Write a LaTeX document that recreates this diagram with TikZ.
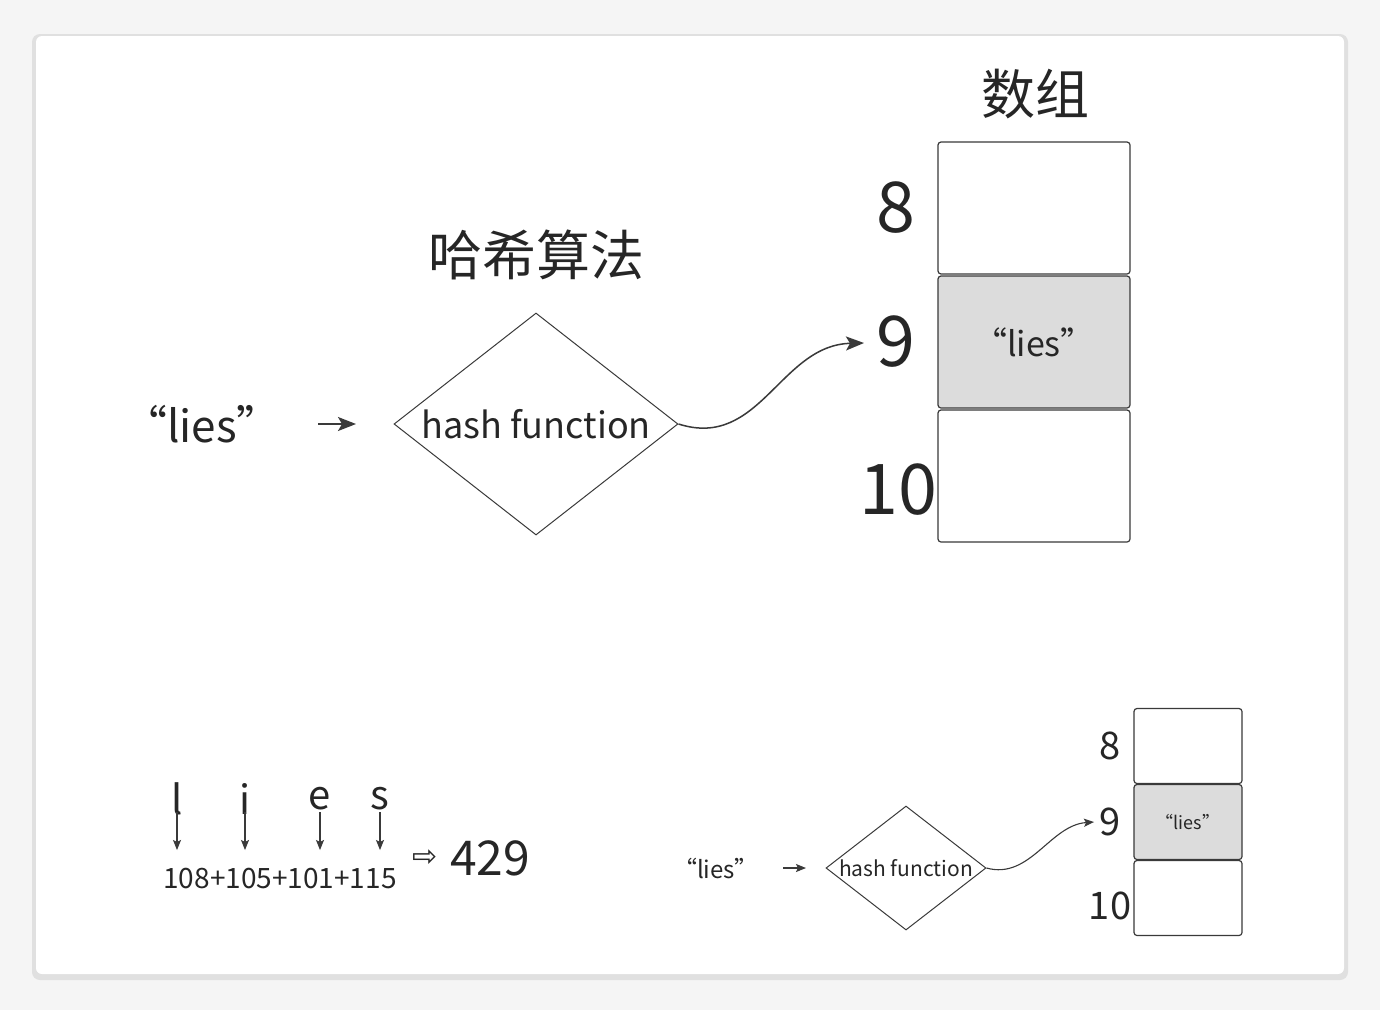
\documentclass[tikz,border=0pt]{standalone}
\usepackage{fontspec}
\setmainfont{Noto Sans CJK SC}
\newfontfamily\sym{DejaVu Sans}
\usetikzlibrary{shapes.geometric,arrows.meta}
\definecolor{boxgray}{HTML}{DCDCDC}
\definecolor{linec}{HTML}{3A3A3A}
\tikzset{
 cell/.style={draw=linec,line width=1.2pt,rounded corners=3pt,minimum width=#1,inner sep=0pt},
 dia/.style={draw=linec,diamond,line width=1pt,inner sep=0pt},
 arr/.style={-{Stealth[length=18pt,width=14pt,inset=4pt]},line width=1.5pt,linec},
 sarr/.style={-{Stealth[length=10pt,width=8pt,inset=2pt]},line width=1.1pt,linec},
 fs/.style={font=\fontsize{#1}{#1}\selectfont,text=black!85}
}
\begin{document}
\begin{tikzpicture}[x=1pt,y=-1pt]
\useasboundingbox (0,0) rectangle (1380,1010);
\fill[black!4] (0,0) rectangle (1380,1010);
\fill[black!12,rounded corners=8pt] (32,34) rectangle (1348,980);
\fill[white,rounded corners=6pt] (36,36) rectangle (1344,974);
% big diagram
\node[fs=44] (lies) at (202,424) {“lies”};
\coordinate (a1) at (318,424); \coordinate (a2) at (356,424);
\draw[arr] (a1) -- (a2);
\node[dia,minimum width=284pt,minimum height=222pt] (hf) at (536,424) {};
\node[fs=36] (hft) at (536,424) {hash function};
\node[fs=54] (t1) at (536,255) {哈希算法};
\node[cell=192pt,minimum height=132pt] (b8) at (1034,208) {};
\node[cell=192pt,minimum height=132pt,fill=boxgray] (b9) at (1034,342) {};
\node[fs=34] (bl) at (1034,342) {“lies”};
\node[cell=192pt,minimum height=132pt] (b10) at (1034,476) {};
\node[fs=70] (n8) at (896,208) {8};
\node[fs=70] (n9) at (896,342) {9};
\node[fs=70] (n10) at (898,490) {10};
\node[fs=54] (t2) at (1035,94) {数组};
\coordinate (c2) at (864,343);
\draw[arr] (hf.east) .. controls (760,450) and (780,345) .. (c2);
% small diagram
\node[fs=24] (lies2) at (716,868) {“lies”};
\coordinate (s1) at (783,868); \coordinate (s2) at (806,868);
\draw[sarr] (s1) -- (s2);
\node[dia,minimum width=160pt,minimum height=124pt] (hf2) at (906,868) {};
\node[fs=21] (hft2) at (906,868) {hash function};
\node[cell=108pt,minimum height=75pt] (c8) at (1188,746) {};
\node[cell=108pt,minimum height=75pt,fill=boxgray] (c9) at (1188,822) {};
\node[fs=18] (cl) at (1188,822) {“lies”};
\node[cell=108pt,minimum height=75pt] (c10) at (1188,898) {};
\node[fs=38] (m8) at (1110,746) {8};
\node[fs=38] (m9) at (1110,822) {9};
\node[fs=38] (m10) at (1110,906) {10};
\coordinate (d2) at (1094,822);
\draw[sarr] (hf2.east) .. controls (1030,880) and (1050,825) .. (d2);
% sum
\foreach \n/\x/\c in {l/177/l,i/245/i,e/320/e,s/380/s}{
 \node[fs=40] (L\n) at (\x,799) {\c};
 \coordinate (E\n) at (\x,850);
 \draw[sarr] (\x,812) -- (E\n);
}
\node[fs=28] (sum) at (280,879) {108+105+101+115};
\node[fs=30] (imp) at (425,858) {\sym ⇨};
\node[fs=48] (res) at (490,858) {429};
\end{tikzpicture}
\end{document}
